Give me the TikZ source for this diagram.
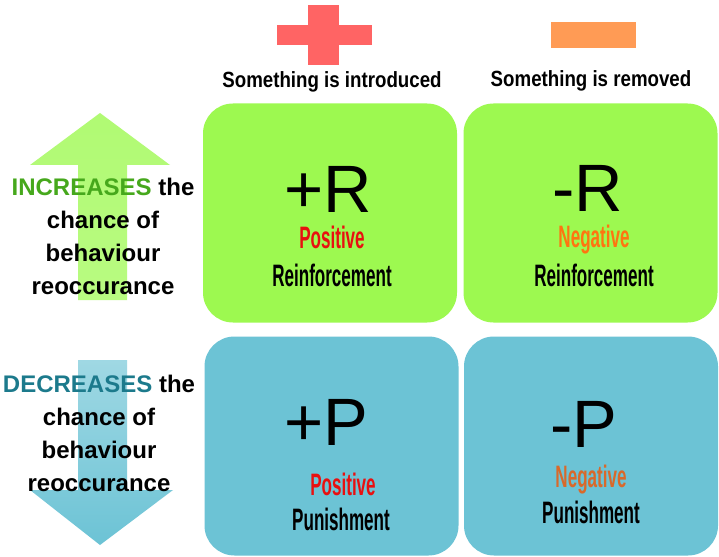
\documentclass[tikz,border=0pt]{standalone}
\usepackage{fontspec}
\setmainfont{Liberation Sans}
\newfontfamily\headfont[FakeStretch=0.85]{Liberation Sans}
\newfontfamily\narrowfont[FakeStretch=0.55]{Liberation Sans}
\usepackage{tikz}
\definecolor{reinfgreen}{HTML}{9DF950}
\definecolor{punishblue}{HTML}{6CC3D5}
\definecolor{upgreen}{HTML}{46A81C}
\definecolor{downblue}{HTML}{1C7A8C}
\definecolor{posred}{HTML}{E81010}
\definecolor{negorange}{HTML}{FF7410}
\definecolor{negdark}{HTML}{D9692A}
\definecolor{plusred}{HTML}{FF6464}
\definecolor{minusorange}{HTML}{FF9B55}

\begin{document}
\begin{tikzpicture}[x=1pt,y=-1pt,
    cellbox/.style={rounded corners=30pt,minimum width=254pt,minimum height=219pt,inner sep=0pt},
    bigsign/.style={anchor=base,inner sep=0pt,font=\fontsize{67}{67}\selectfont},
    word/.style={anchor=base,inner sep=0pt,font=\narrowfont\bfseries\fontsize{31}{31}\selectfont},
    heading/.style={anchor=base,inner sep=0pt,font=\headfont\bfseries\fontsize{22}{22}\selectfont},
    sidetext/.style={anchor=north,inner sep=0pt,align=center,font=\bfseries\fontsize{24}{33}\selectfont}]
  \useasboundingbox (0,0) rectangle (719,556);
  \fill[white] (0,0) rectangle (719,556);

  \shade[top color=reinfgreen!80, bottom color=reinfgreen!72]
    (78,300) -- (78,165) -- (30,165) -- (100,113) -- (170,165)
    -- (127,165) -- (127,300) -- cycle;
  \shade[top color=punishblue!65, bottom color=punishblue]
    (78,360) -- (127,360) -- (127,490) -- (173,490) -- (100,545)
    -- (30,490) -- (78,490) -- cycle;

  \fill[plusred] (277,25) rectangle (372,45);
  \fill[plusred] (308,5) rectangle (339,65);
  \fill[minusorange] (551,22) rectangle (636,48);

  \node[heading] (introduced) at (332,88) {Something is introduced};
  \node[heading] (removed) at (591,87) {Something is removed};

  \node[cellbox,fill=reinfgreen] (posR) at (330,213) {};
  \node[cellbox,fill=reinfgreen] (negR) at (590.5,213) {};
  \node[cellbox,fill=punishblue] (posP) at (331.5,446) {};
  \node[cellbox,fill=punishblue] (negP) at (591,446) {};

  \node[bigsign] (posRsign) at (328,212) {+R};
  \node[word,text=posred] (posRword) at (332,248) {Positive};
  \node[word] (posRtype) at (332,286) {Reinforcement};

  \node[bigsign] (negRsign) at (588,211) {-R};
  \node[word,text=negorange] (negRword) at (594,247) {Negative};
  \node[word] (negRtype) at (594,286) {Reinforcement};

  \node[bigsign] (posPsign) at (326,445) {+P};
  \node[word,text=posred] (posPword) at (343,495) {Positive};
  \node[word] (posPtype) at (341,530) {Punishment};

  \node[bigsign] (negPsign) at (584,447) {-P};
  \node[word,text=negdark] (negPword) at (591,487) {Negative};
  \node[word] (negPtype) at (591,523) {Punishment};

  \node[sidetext] (increases) at (103,178)
    {\textcolor{upgreen}{INCREASES} the\\chance of\\behaviour\\reoccurance};
  \node[sidetext] (decreases) at (99,375)
    {\textcolor{downblue}{DECREASES} the\\chance of\\behaviour\\reoccurance};
\end{tikzpicture}
\end{document}
